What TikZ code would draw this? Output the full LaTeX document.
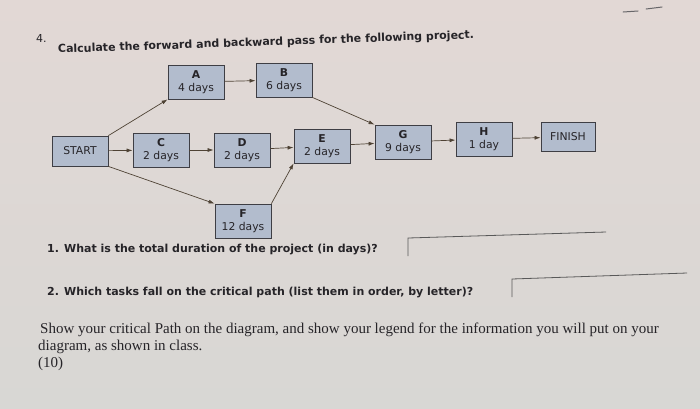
\documentclass[tikz,border=0pt]{standalone}
\usepackage{fontspec}
\setmainfont{Liberation Serif}
\newfontfamily\boxfont{DejaVu Sans}
\usetikzlibrary{arrows.meta}

\definecolor{paper top}{RGB}{226,216,213}
\definecolor{paper low}{RGB}{216,215,212}
\definecolor{task area}{RGB}{178,188,205}
\definecolor{task edge}{RGB}{62,62,68}
\definecolor{ink}{RGB}{38,36,40}
\definecolor{link}{RGB}{78,66,52}

\begin{document}
\begin{tikzpicture}[x=1pt,y=-1pt,
  task/.style={draw=task edge, fill=task area, line width=0.8pt, minimum width=56pt, minimum height=34pt, inner sep=1pt, align=center, text=ink, font=\boxfont\fontsize{10.8}{13}\selectfont},
  link/.style={draw=link, line width=0.7pt, -{Latex[length=6pt,width=4pt]}},
  sans/.style={text=ink, anchor=base west, inner sep=0pt, font=\boxfont\bfseries\fontsize{11}{13}\selectfont},
  serif/.style={text=ink, anchor=base west, inner sep=0pt, font=\fontsize{15}{18}\selectfont}]
\shade[top color=paper top, bottom color=paper low] (0,0) rectangle (700,408);
\useasboundingbox (0,0) rectangle (700,408);
% pencil marks
\draw[ink!70, line width=1pt, line cap=round] (623,12) -- (638,11) (646,9) -- (662,7);

\node[text=ink, anchor=base west, inner sep=0pt, font=\boxfont\fontsize{11}{13}\selectfont] (num) at (36,42) {4.};
\node[sans, rotate=2] (title) at (58,53) {Calculate the forward and backward pass for the following project.};

% tasks
\node[task, minimum height=30pt] (start) at (80,151) {START};
\node[task] (A) at (196,82) {\textbf{A}\\4 days};
\node[task] (B) at (284,80) {\textbf{B}\\6 days};
\node[task] (C) at (161,150) {\textbf{C}\\2 days};
\node[task] (D) at (242,150) {\textbf{D}\\2 days};
\node[task] (E) at (322,146) {\textbf{E}\\2 days};
\node[task] (F) at (243,221) {\textbf{F}\\12 days};
\node[task] (G) at (403,142) {\textbf{G}\\9 days};
\node[task] (H) at (484,139) {\textbf{H}\\1 day};
\node[task, minimum height=29pt, minimum width=54pt] (finish) at (568,137) {FINISH};

\draw[link] (start.north east) -- (A.south west);
\draw[link] (A) -- (B);
\draw[link] (B.south east) -- (G.north west);
\draw[link] (start) -- (C);
\draw[link] (C) -- (D);
\draw[link] (D) -- (E);
\draw[link] (E) -- (G);
\draw[link] (start.south east) -- (F.north west);
\draw[link] (F.north east) -- (E.south west);
\draw[link] (G) -- (H);
\draw[link] (H) -- (finish);

% questions
\node[sans] (q1) at (47,252) {1. What is the total duration of the project (in days)?};
\draw[gray!70!black, line width=0.8pt] (606,232) -- (408,238) -- (408,256);
\node[sans] (q2) at (47,295) {2. Which tasks fall on the critical path (list them in order, by letter)?};
\draw[gray!70!black, line width=0.8pt] (687,273) -- (512,279) -- (512,297);

\node[serif] (note1) at (40,333) {Show your critical Path on the diagram, and show your legend for the information you will put on your};
\node[serif] (note2) at (38,350) {diagram, as shown in class.};
\node[serif] (note3) at (38,367) {(10)};
\end{tikzpicture}
\end{document}
